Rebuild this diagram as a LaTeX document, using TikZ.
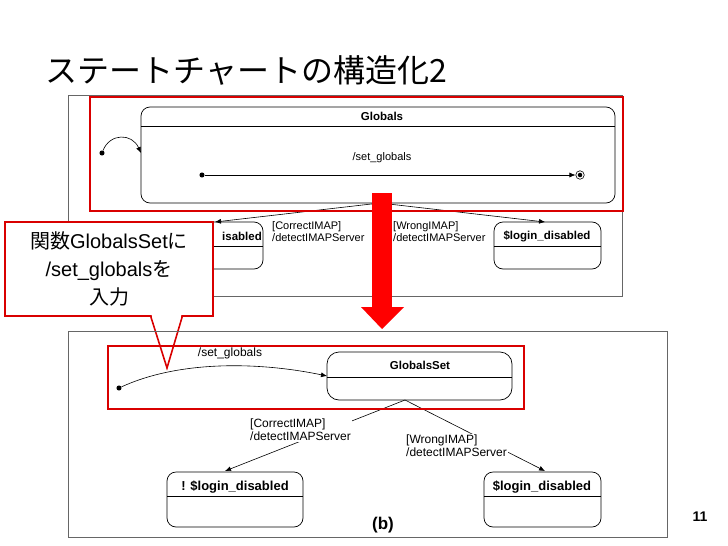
\documentclass[tikz,border=0pt]{standalone}
\usepackage{fontspec}
\setmainfont{Liberation Sans}
\newfontfamily\cjk{Noto Sans CJK JP}
\usetikzlibrary{arrows.meta}
\begin{document}
\begin{tikzpicture}[x=1pt,y=-1pt,
  frame/.style={draw=black!60,line width=0.6pt},
  redbox/.style={draw=red!85!black,line width=1.6pt},
  st/.style={draw,rounded corners=9pt,line width=0.7pt},
  lbl/.style={font=\fontsize{11}{12}\selectfont,align=left,inner sep=1pt},
  stname/.style={font=\bfseries\fontsize{11.5}{12}\selectfont},
  tr/.style={line width=0.6pt,-{Latex[length=6pt,width=5pt]}},
  dot/.style={circle,fill,inner sep=1.8pt}]
\useasboundingbox (0,0) rectangle (728,546);
\node[anchor=west,font=\cjk\fontsize{32}{34}\selectfont] (title) at (42,70) {ステートチャートの構造化2};
% top panel
\draw[frame] (68,95) rectangle (622,296);
\draw[st] (141,107) rectangle (615,203);
\draw[line width=0.6pt] (141,126) -- (615,126);
\node[stname] (globals) at (382,116) {Globals};
\node[dot] (i1) at (102,153) {};
\coordinate (gl) at (141,153);
\draw[tr] (i1) .. controls (110,133) and (132,133) .. (gl);
\node[dot] (i2) at (202,175) {};
\node[circle,draw,inner sep=3pt,line width=0.6pt] (fin) at (580,175) {};
\node[circle,fill,inner sep=1.6pt] at (fin) {};
\draw[tr] (i2) -- (fin);
\node[lbl] (sg1) at (382,158) {/set\_globals};
\begin{scope}
\clip (214,215) rectangle (270,275);
\draw[st] (140,222) rectangle (263,269);
\draw[line width=0.6pt] (140,246) -- (263,246);
\end{scope}
\node[stname,anchor=east,inner sep=1pt] (la) at (263,236) {isabled};
\draw[st] (494,222) rectangle (601,269);
\draw[line width=0.6pt] (494,246) -- (601,246);
\node[stname] (ra) at (547,236) {\$login\_disabled};
\coordinate (ga) at (380,203);
\draw[tr] (ga) -- (215,222);
\draw[tr] (ga) -- (545,222);
\node[lbl,anchor=north west] (c1) at (271,220) {[CorrectIMAP]\\/detectIMAPServer};
\node[lbl,anchor=north west,fill=white] (w1) at (392,220) {[WrongIMAP]\\/detectIMAPServer};
\node[font=\bfseries\fontsize{17}{18}\selectfont] (a) at (382,280) {(a)};
\draw[redbox] (90,97) rectangle (623,211);
% red arrow
\fill[red] (372,193) rectangle (392,308);
\fill[red] (361,307) -- (404,307) -- (382,329) -- cycle;
% callout
\draw[redbox,fill=white] (150,314) -- (167,368) -- (183,314);
\draw[redbox,fill=white] (5,222) rectangle (213,316);
\fill[white] (151,313) -- (167,362) -- (182,313) -- cycle;
\node[font=\fontsize{20}{28}\selectfont,align=center] (callout) at (109,269) {{\cjk 関数}GlobalsSet{\cjk に}\\/set\_globals{\cjk を}\\{\cjk 入力}};
% bottom panel
\draw[frame] (68,331) rectangle (667,537);
\draw[st,rounded corners=12pt] (327,352) rectangle (512,400);
\draw[line width=0.6pt] (327,377) -- (512,377);
\node[stname] (gs) at (420,365) {GlobalsSet};
\node[dot] (i3) at (119,388) {};
\coordinate (gsl) at (327,376);
\draw[tr] (i3) .. controls (180,360) and (260,362) .. (gsl);
\node[lbl,font=\fontsize{12}{13}\selectfont] (sg2) at (230,353) {/set\_globals};
\draw[st] (167,472) rectangle (303,527);
\draw[line width=0.6pt] (167,496) -- (303,496);
\node[stname,font=\bfseries\fontsize{13}{14}\selectfont] (lb) at (235,487) {! \$login\_disabled};
\draw[st] (484,472) rectangle (601,527);
\draw[line width=0.6pt] (484,496) -- (601,496);
\node[stname,font=\bfseries\fontsize{13}{14}\selectfont] (rb) at (542,487) {\$login\_disabled};
\coordinate (gb) at (405,400);
\draw[tr] (gb) -- (225,471);
\draw[tr] (gb) -- (545,471);
\node[lbl,anchor=north west,fill=white,font=\fontsize{12}{13}\selectfont] (c2) at (249,418) {[CorrectIMAP]\\/detectIMAPServer};
\node[lbl,anchor=north west,fill=white,font=\fontsize{12}{13}\selectfont] (w2) at (405,434) {[WrongIMAP]\\/detectIMAPServer};
\node[font=\bfseries\fontsize{17}{18}\selectfont] (b) at (383,525) {(b)};
\draw[redbox] (108,346) rectangle (524,409);
\node[font=\bfseries\fontsize{14}{16}\selectfont] (pg) at (700,517) {11};
\end{tikzpicture}
\end{document}
